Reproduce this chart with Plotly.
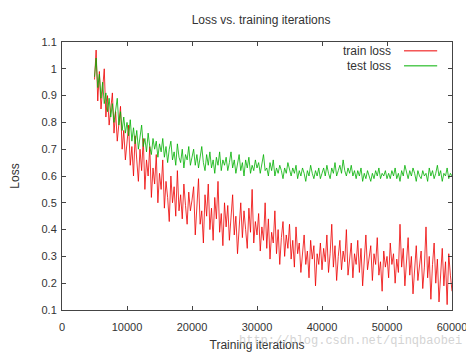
import plotly.graph_objects as go

iterations = list(range(5000, 60001, 250))

train_loss = [
    0.96, 1.07, 0.88, 0.99, 0.85, 0.93, 1.00, 0.82, 0.90, 0.79, 0.86, 0.91, 0.76, 0.84, 0.73, 0.80, 0.86, 0.70, 0.77, 0.66, 0.74,
    0.79, 0.64, 0.71, 0.60, 0.75, 0.66, 0.58, 0.70, 0.62, 0.74, 0.55, 0.66, 0.60, 0.71, 0.52, 0.63, 0.57, 0.68, 0.50, 0.61,
    0.55, 0.66, 0.48, 0.58, 0.52, 0.43, 0.60, 0.50, 0.56, 0.45, 0.62, 0.47, 0.53, 0.44, 0.57, 0.49, 0.42, 0.54, 0.47, 0.51,
    0.56, 0.38, 0.50, 0.59, 0.42, 0.47, 0.35, 0.53, 0.45, 0.57, 0.40, 0.48, 0.36, 0.52, 0.44, 0.58, 0.39, 0.46, 0.34, 0.50,
    0.41, 0.49, 0.36, 0.44, 0.53, 0.38, 0.45, 0.31, 0.42, 0.50, 0.37, 0.47, 0.40, 0.33, 0.48, 0.39, 0.55, 0.35, 0.43, 0.38,
    0.46, 0.32, 0.41, 0.36, 0.50, 0.33, 0.44, 0.29, 0.39, 0.35, 0.47, 0.31, 0.40, 0.27, 0.37, 0.43, 0.30, 0.38, 0.33, 0.42,
    0.29, 0.36, 0.26, 0.41, 0.31, 0.35, 0.24, 0.33, 0.38, 0.27, 0.32, 0.22, 0.36, 0.29, 0.34, 0.19, 0.31, 0.27, 0.35, 0.25,
    0.33, 0.28, 0.38, 0.24, 0.31, 0.42, 0.26, 0.34, 0.21, 0.30, 0.36, 0.25, 0.32, 0.28, 0.40, 0.23, 0.30, 0.35, 0.22, 0.31,
    0.27, 0.36, 0.24, 0.33, 0.19, 0.30, 0.38, 0.25, 0.29, 0.34, 0.21, 0.31, 0.27, 0.37, 0.23, 0.28, 0.17, 0.32, 0.26, 0.30,
    0.22, 0.35, 0.27, 0.31, 0.20, 0.29, 0.24, 0.42, 0.26, 0.33, 0.19, 0.28, 0.37, 0.23, 0.30, 0.16, 0.27, 0.34, 0.21, 0.28,
    0.32, 0.18, 0.26, 0.41, 0.22, 0.30, 0.14, 0.27, 0.35, 0.20, 0.29, 0.13, 0.25, 0.33, 0.19, 0.28, 0.12, 0.31, 0.23, 0.17,
]

test_loss = [
    0.97, 1.04, 0.93, 0.98, 0.89, 0.95, 0.87, 0.91, 0.84, 0.89, 0.82, 0.87, 0.80, 0.85, 0.89, 0.79, 0.84, 0.77, 0.82, 0.76, 0.80,
    0.75, 0.81, 0.73, 0.78, 0.72, 0.77, 0.70, 0.75, 0.79, 0.71, 0.74, 0.69, 0.76, 0.71, 0.68, 0.74, 0.70, 0.73, 0.67, 0.72,
    0.69, 0.74, 0.67, 0.71, 0.65, 0.70, 0.73, 0.66, 0.69, 0.64, 0.72, 0.67, 0.65, 0.70, 0.63, 0.68, 0.66, 0.71, 0.64, 0.67,
    0.70, 0.64, 0.68, 0.63, 0.67, 0.71, 0.65, 0.62, 0.68, 0.64, 0.69, 0.63, 0.66, 0.61, 0.67, 0.64, 0.69, 0.62, 0.66, 0.64,
    0.67, 0.62, 0.65, 0.69, 0.63, 0.66, 0.61, 0.64, 0.68, 0.62, 0.65, 0.60, 0.66, 0.63, 0.67, 0.61, 0.64, 0.62, 0.66, 0.63,
    0.65, 0.61, 0.64, 0.68, 0.62, 0.63, 0.60, 0.65, 0.62, 0.66, 0.60, 0.63, 0.61, 0.64, 0.62, 0.59, 0.63, 0.61, 0.65, 0.62,
    0.60, 0.63, 0.61, 0.64, 0.59, 0.62, 0.60, 0.63, 0.61, 0.58, 0.62, 0.60, 0.64, 0.61, 0.59, 0.62, 0.60, 0.63, 0.59, 0.61,
    0.63, 0.60, 0.64, 0.61, 0.59, 0.63, 0.61, 0.65, 0.60, 0.62, 0.64, 0.61, 0.66, 0.62, 0.60, 0.63, 0.61, 0.64, 0.60, 0.62,
    0.59, 0.62, 0.60, 0.63, 0.58, 0.61, 0.59, 0.62, 0.60, 0.58, 0.61, 0.59, 0.62, 0.60, 0.63, 0.59, 0.61, 0.60, 0.62, 0.59,
    0.61, 0.59, 0.62, 0.60, 0.63, 0.59, 0.61, 0.58, 0.62, 0.60, 0.64, 0.61, 0.59, 0.62, 0.60, 0.63, 0.61, 0.58, 0.62, 0.60,
    0.59, 0.62, 0.60, 0.61, 0.58, 0.63, 0.60, 0.62, 0.59, 0.61, 0.64, 0.60, 0.62, 0.58, 0.61, 0.60, 0.63, 0.59, 0.61, 0.60,
]

x_ticks = [0, 10000, 20000, 30000, 40000, 50000, 60000]
y_ticks = [0.1, 0.2, 0.3, 0.4, 0.5, 0.6, 0.7, 0.8, 0.9, 1.0, 1.1]
y_tick_text = ["0.1", "0.2", "0.3", "0.4", "0.5", "0.6", "0.7", "0.8", "0.9", "1", "1.1"]

RED = "#ee0000"
GREEN = "#00b000"
TXT = "#333333"
FONT = "Liberation Sans"

fig = go.Figure()
fig.add_trace(go.Scatter(x=iterations, y=train_loss, mode="lines", name="train loss",
                         line=dict(color=RED, width=0.8), showlegend=False))
fig.add_trace(go.Scatter(x=iterations, y=test_loss, mode="lines", name="test loss",
                         line=dict(color=GREEN, width=0.8), showlegend=False))

axis_common = dict(showgrid=False, zeroline=False, showline=True, linecolor="#444444",
                   linewidth=1, mirror="ticks", ticks="inside", ticklen=4,
                   tickcolor="#444444", tickfont=dict(family=FONT, size=11, color=TXT))

# the page body adds an 8px offset, so the figure is 8px smaller on each axis
fig.update_layout(
    width=466, height=347,
    margin=dict(l=54, r=22, t=34, b=45, autoexpand=False),
    paper_bgcolor="white", plot_bgcolor="white",
    title=dict(text="Loss vs. training iterations", x=0.543, xanchor="center",
               y=0.965, yanchor="middle", font=dict(family=FONT, size=12, color=TXT)),
    xaxis=dict(range=[0, 60000], tickvals=x_ticks, ticktext=[str(v) for v in x_ticks],
               ticklabelstandoff=7, automargin=True,
               title=dict(text="Training iterations", font=dict(family=FONT, size=12, color=TXT), standoff=8),
               **axis_common),
    yaxis=dict(range=[0.1, 1.1], tickvals=y_ticks, ticktext=y_tick_text, automargin=False,
               ticklabelstandoff=2,
               title=dict(text="Loss", font=dict(family=FONT, size=12, color=TXT), standoff=24),
               **axis_common),
    font=dict(family=FONT, color=TXT),
)

# gnuplot-style legend: label on the left, line sample on the right
legend_items = [("train loss", RED, 0.967), ("test loss", GREEN, 0.911)]
for label, color, ypos in legend_items:
    fig.add_annotation(xref="paper", yref="paper", x=0.849, y=ypos, xanchor="right",
                       yanchor="middle", text=label, showarrow=False,
                       font=dict(family=FONT, size=12, color=TXT))
    fig.add_shape(type="line", xref="paper", yref="paper", x0=0.877, x1=0.962,
                  y0=ypos, y1=ypos, line=dict(color=color, width=1))

# watermark
fig.add_annotation(xref="paper", yref="paper", x=1.03, y=-0.115, xanchor="right",
                   yanchor="middle", text="http://blog.csdn.net/qinqbaobei", showarrow=False,
                   font=dict(family="Liberation Mono", size=12, color="rgba(200,200,200,0.8)"))

fig.write_html("out.html")
